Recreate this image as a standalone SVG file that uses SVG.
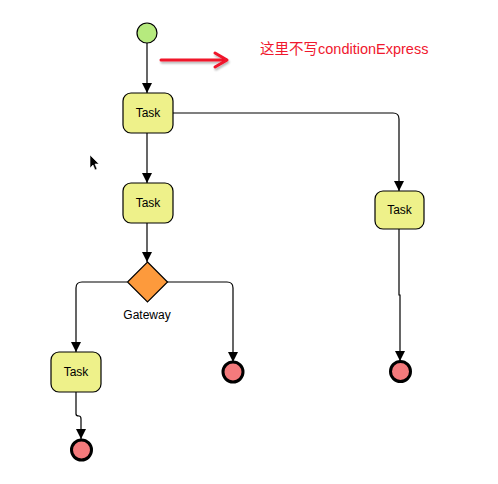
<svg xmlns="http://www.w3.org/2000/svg" width="498" height="484" viewBox="0 0 498 484">
<style>
.task rect{fill:#eef18a;stroke:#000;stroke-width:1.2}
.lbl{font-family:"Liberation Sans",Arial,sans-serif;font-size:12px;fill:#000;text-anchor:middle}
.end circle{fill:#f47a7c;stroke:#000;stroke-width:3}
.edge{fill:none;stroke:#000;stroke-width:1.2}
</style>
<defs>
<marker id="arr" viewBox="0 0 10 10" refX="10" refY="5" markerWidth="10" markerHeight="10" markerUnits="userSpaceOnUse" orient="auto">
<path d="M0,0 L10,5 L0,10 Z" fill="#000"/>
</marker>
<filter id="sh" x="-20%" y="-50%" width="140%" height="200%">
<feGaussianBlur in="SourceAlpha" stdDeviation="1.2"/>
<feOffset dx="1" dy="2" result="b"/>
<feComponentTransfer><feFuncA type="linear" slope="0.3"/></feComponentTransfer>
<feMerge><feMergeNode/><feMergeNode in="SourceGraphic"/></feMerge>
</filter>
</defs>
<rect width="498" height="484" fill="#fff"/>
<g id="connectors">
<path class="edge" d="M147,43 V93" marker-end="url(#arr)"/>
<path class="edge" d="M147,133 V183" marker-end="url(#arr)"/>
<path class="edge" d="M147,223 V262" marker-end="url(#arr)"/>
<path class="edge" d="M173,113 H393 Q399,113 399,119 V191" marker-end="url(#arr)"/>
<path class="edge" d="M399,228 V295 H400 V361" marker-end="url(#arr)"/>
<path class="edge" d="M127,282 H82 Q76,282 76,288 V352" marker-end="url(#arr)"/>
<path class="edge" d="M167,282 H227 Q233,282 233,288 V362" marker-end="url(#arr)"/>
<path class="edge" d="M76,392 V414 Q76,416 79,416 Q81,416 81,419 V439" marker-end="url(#arr)"/>
</g>
<g id="start"><circle cx="147" cy="33" r="10" fill="#b6ea7e" stroke="#000" stroke-width="1.2"/></g>
<g id="task1" class="task"><rect x="123" y="93" width="50" height="40" rx="8"/><text class="lbl" x="148" y="117">Task</text></g>
<g id="task2" class="task"><rect x="123" y="183" width="50" height="40" rx="8"/><text class="lbl" x="148" y="207">Task</text></g>
<g id="task3" class="task"><rect x="375" y="191" width="49" height="38" rx="8"/><text class="lbl" x="399.5" y="214">Task</text></g>
<g id="task4" class="task"><rect x="51" y="352" width="50" height="40" rx="8"/><text class="lbl" x="76" y="376">Task</text></g>
<g id="gateway"><path d="M147.5,262 L167.5,282 L147.5,302 L127.5,282 Z" fill="#fd9a3c" stroke="#000" stroke-width="1.2"/><text class="lbl" x="147" y="319">Gateway</text></g>
<g id="end1" class="end"><circle cx="233" cy="372" r="10"/></g>
<g id="end2" class="end"><circle cx="400.5" cy="371.5" r="10"/></g>
<g id="end3" class="end"><circle cx="81.5" cy="450" r="10"/></g>
<g id="note">
<g filter="url(#sh)" stroke="#f0122a" stroke-width="3" fill="none" stroke-linecap="round" stroke-linejoin="round">
<path d="M161,60 H226"/>
<path d="M215,53 L227,60 L215,67"/>
</g>
<text x="260" y="54" font-family="'Liberation Sans','Noto Sans CJK SC',sans-serif" font-size="14.5" fill="#f0182e">这里不写conditionExpress</text>
</g>
<g id="cursor"><path d="M90,155 L90,168 L93,165 L95,170 L97,169 L95,164 L99,164 Z" fill="#000" stroke="#fff" stroke-width="0.6"/></g>
</svg>
